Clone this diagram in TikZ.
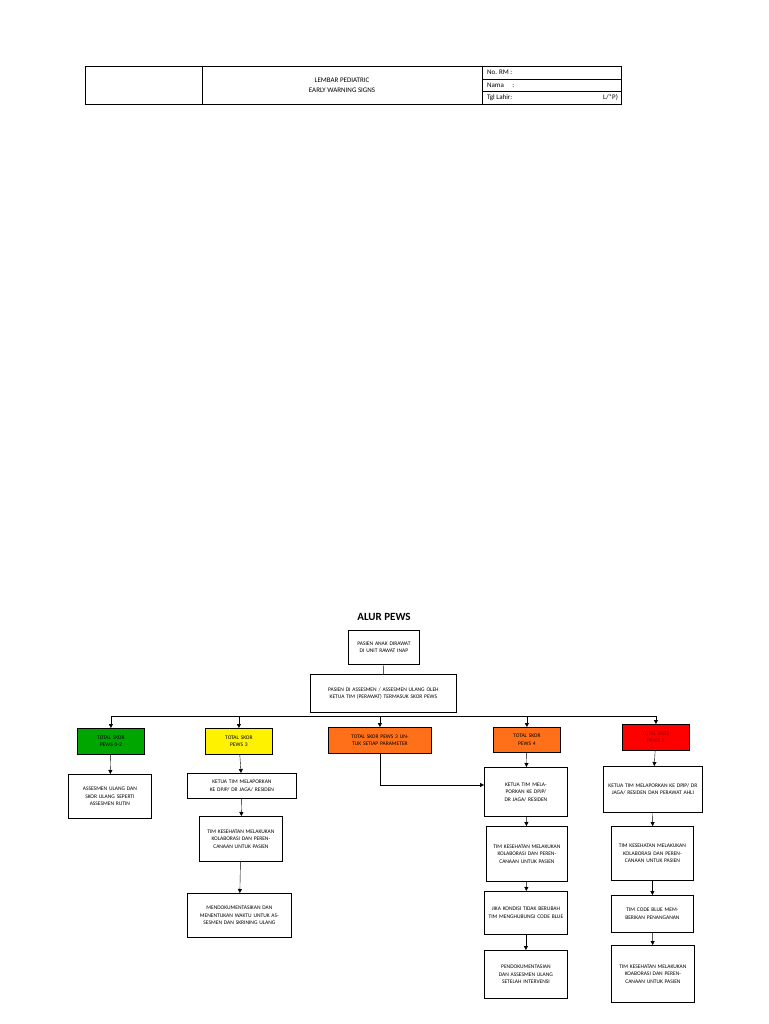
\documentclass[tikz,border=0pt]{standalone}
\usepackage{fontspec}
\setmainfont{Carlito}
\usetikzlibrary{positioning,arrows.meta}

\begin{document}
\begin{tikzpicture}[x=1pt,y=-1pt]
    \fontsize{5.5}{7.5}\selectfont
    \tikzstyle{box} = [draw, thick, align=center, inner sep=1pt]
    \tikzstyle{arr} = [draw, -{Triangle[length=4pt,width=4pt]}]
    \useasboundingbox (0,0) rectangle (768,1024);

    % header
    \draw (85,66) rectangle (621,104) (202,66)--(202,104) (482,66)--(482,104)
      (482,79)--(621,79) (482,91)--(621,91);
    \node[align=center,font=\fontsize{7}{10}\selectfont] (head) at (342,85)
      {LEMBAR PEDIATRIC\\EARLY WARNING SIGNS};
    \node[anchor=west,font=\fontsize{7}{8}\selectfont] (rm) at (485,72.5) {No. RM :};
    \node[anchor=west,font=\fontsize{7}{8}\selectfont] (nama) at (485,85) {Nama \quad :};
    \node[anchor=west,font=\fontsize{7}{8}\selectfont] (tgl) at (485,97.5) {Tgl Lahir:};
    \node[anchor=east,font=\fontsize{7}{8}\selectfont] (lp) at (620,97.5) {L/*P)};

    \node[font=\bfseries\fontsize{11}{12}\selectfont] (title) at (384,617) {ALUR PEWS};

    \draw
    (348,630) node [box,anchor=north west,minimum width=71pt,minimum height=34pt,text width=60pt] (b1) {PASIEN ANAK DIRAWAT DI UNIT RAWAT INAP}
    (310,674) node [box,anchor=north west,minimum width=146pt,minimum height=38pt,text width=140pt] (b2) {PASIEN DI ASSESMEN / ASSESMEN ULANG OLEH KETUA TIM (PERAWAT) TERMASUK SKOR PEWS}

    (77,728) node [box,anchor=north west,fill=green!65!black,minimum width=67pt,minimum height=26pt,text width=45pt] (s1) {TOTAL SKOR PEWS 0-2}
    (205,728) node [box,anchor=north west,fill=yellow,minimum width=67pt,minimum height=26pt,text width=45pt] (s2) {TOTAL SKOR PEWS 3}
    (328,727) node [box,anchor=north west,fill=orange!75!red!90!white,minimum width=103pt,minimum height=26pt,text width=95pt] (s3) {TOTAL SKOR PEWS 3 UNTUK SETIAP PARAMETER}
    (493,727) node [box,anchor=north west,fill=orange!75!red!90!white,minimum width=67pt,minimum height=25pt,text width=45pt] (s4) {TOTAL SKOR PEWS 4}
    (622,724) node [box,anchor=north west,fill=red,text=red!60!black,minimum width=67pt,minimum height=26pt,text width=45pt] (s5) {TOTAL SKOR PEWS 5}

    (68,774) node [box,anchor=north west,minimum width=83pt,minimum height=44pt,text width=70pt] (a1) {ASSESMEN ULANG DAN SKOR ULANG SEPERTI ASSESMEN RUTIN}

    (187,773) node [box,anchor=north west,minimum width=109pt,minimum height=25pt,text width=104pt] (y1) {KETUA TIM MELAPORKAN KE DPJP/ DR JAGA/ RESIDEN}
    (199,816) node [box,anchor=north west,minimum width=83pt,minimum height=45pt,text width=78pt] (y2) {TIM KESEHATAN MELAKUKAN KOLABORASI DAN PERENCANAAN UNTUK PASIEN}
    (187,893) node [box,anchor=north west,minimum width=104pt,minimum height=44pt,text width=98pt] (y3) {MENDOKUMENTASIKAN DAN MENENTUKAN WAKTU UNTUK ASSESMEN DAN SKRINING ULANG}

    (484,767) node [box,anchor=north west,minimum width=83pt,minimum height=49pt,text width=62pt] (o1) {KETUA TIM MELAPORKAN KE DPJP/ DR JAGA/ RESIDEN}
    (486,826) node [box,anchor=north west,minimum width=81pt,minimum height=55pt,text width=76pt] (o2) {TIM KESEHATAN MELAKUKAN KOLABORASI DAN PERENCANAAN UNTUK PASIEN}
    (484,891) node [box,anchor=north west,minimum width=83pt,minimum height=43pt,text width=76pt] (o3) {JIKA KONDISI TIDAK BERUBAH TIM MENGHUBUNGI CODE BLUE}
    (484,950) node [box,anchor=north west,minimum width=83pt,minimum height=48pt,text width=70pt] (o4) {PENDOKUMENTASIAN DAN ASSESMEN ULANG SETELAH INTERVENSI}

    (603,766) node [box,anchor=north west,minimum width=99pt,minimum height=46pt,text width=94pt] (r1) {KETUA TIM MELAPORKAN KE DPJP/ DR JAGA/ RESIDEN DAN PERAWAT AHLI}
    (611,826) node [box,anchor=north west,minimum width=82pt,minimum height=54pt,text width=76pt] (r2) {TIM KESEHATAN MELAKUKAN KOLABORASI DAN PERENCANAAN UNTUK PASIEN}
    (611,895) node [box,anchor=north west,minimum width=82pt,minimum height=37pt,text width=70pt] (r3) {TIM CODE BLUE MEMBERIKAN PENANGANAN}
    (611,945) node [box,anchor=north west,minimum width=83pt,minimum height=57pt,text width=76pt] (r4) {TIM KESEHATAN MELAKUKAN KOABORASI DAN PERENCANAAN UNTUK PASIEN}
;
    \coordinate (split) at (s1.north |- 0,716);
    \draw (b1)--(b2);
    \draw (split)--(s5.north |- split);
    \foreach \s in {s1,s2,s3,s4,s5}
      \draw[arr] (\s.north |- split)--(\s.north);

    \draw[arr] (s1)--(a1);
    \draw[arr] (s2)--(y1);
    \draw[arr] (y1)--(y2);
    \draw[arr] (y2)--(y3);
    \draw[arr] (s3.south) |- (o1.west |- 0,785);
    \draw[arr] (s4)--(o1);
    \draw[arr] (o1)--(o2);
    \draw[arr] (o2)--(o3);
    \draw[arr] (o3)--(o4);
    \draw[arr] (s5)--(r1);
    \draw[arr] (r1)--(r2);
    \draw[arr] (r2)--(r3);
    \draw[arr] (r3)--(r4);
\end{tikzpicture}
\end{document}
